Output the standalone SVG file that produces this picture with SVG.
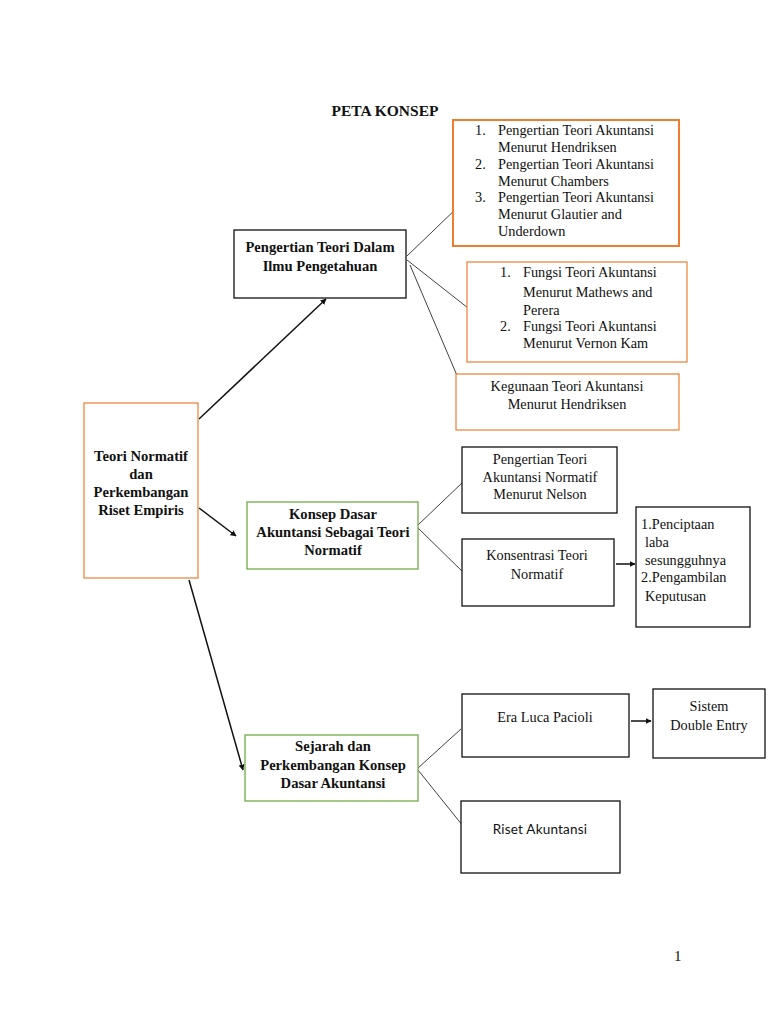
<svg xmlns="http://www.w3.org/2000/svg" width="768" height="1024" viewBox="0 0 768 1024">
<style>
text{font-family:"Liberation Serif","Times New Roman",serif;font-size:14.3px;fill:#111}
.b{font-weight:bold;font-size:14.6px}
.c{text-anchor:middle}
.blk{fill:#fff;stroke:#111;stroke-width:1.3}
.org{fill:#fff;stroke:#ED7D31;stroke-width:1.2}
.org2{fill:#fff;stroke:#ED7D31;stroke-width:2}
.grn{fill:#fff;stroke:#70AD47;stroke-width:1.3}
.ln{stroke:#111;stroke-width:0.8;fill:none}
.ar{stroke:#111;stroke-width:1.5;fill:none;marker-end:url(#ah)}
</style>
<defs>
<marker id="ah" viewBox="0 0 10 10" refX="9" refY="5" markerWidth="6" markerHeight="6" orient="auto" markerUnits="userSpaceOnUse">
<path d="M0,0 L10,5 L0,10 z" fill="#111"/>
</marker>
</defs>
<rect width="768" height="1024" fill="#fff"/>
<text class="b c" x="385" y="116" style="font-size:15.5px">PETA KONSEP</text>

<g id="connectors">
<line class="ar" x1="199" y1="419" x2="326" y2="299"/>
<line class="ar" x1="199" y1="508" x2="236" y2="536"/>
<line class="ar" x1="189" y1="580" x2="243" y2="770"/>
<line class="ln" x1="407" y1="256" x2="460" y2="205"/>
<line class="ln" x1="407" y1="260" x2="468" y2="308"/>
<line class="ln" x1="410" y1="265" x2="467" y2="399"/>
<line class="ln" x1="418" y1="525" x2="463" y2="482"/>
<line class="ln" x1="418" y1="528" x2="466" y2="575"/>
<line class="ar" x1="616" y1="564" x2="635" y2="564"/>
<line class="ln" x1="418" y1="768" x2="461" y2="729"/>
<line class="ln" x1="418" y1="770" x2="463" y2="826"/>
<line class="ar" x1="631" y1="721" x2="651" y2="721"/>
</g>

<g id="nodeA">
<rect class="blk" x="234" y="230" width="172" height="68"/>
<text class="b c" x="320" y="252">Pengertian Teori Dalam</text>
<text class="b c" x="320" y="271">Ilmu Pengetahuan</text>
</g>

<g id="nodeB">
<rect class="org2" x="453" y="120" width="226" height="126"/>
<text x="475" y="135">1.</text><text x="498" y="135">Pengertian Teori Akuntansi</text>
<text x="498" y="152">Menurut Hendriksen</text>
<text x="475" y="169">2.</text><text x="498" y="169">Pengertian Teori Akuntansi</text>
<text x="498" y="186">Menurut Chambers</text>
<text x="475" y="202">3.</text><text x="498" y="202">Pengertian Teori Akuntansi</text>
<text x="498" y="219">Menurut Glautier and</text>
<text x="498" y="236">Underdown</text>
</g>

<g id="nodeC">
<rect class="org" x="467" y="262" width="220" height="100"/>
<text x="500" y="277">1.</text><text x="523" y="277">Fungsi Teori Akuntansi</text>
<text x="523" y="297">Menurut Mathews and</text>
<text x="523" y="315">Perera</text>
<text x="500" y="331">2.</text><text x="523" y="331">Fungsi Teori Akuntansi</text>
<text x="523" y="348">Menurut Vernon Kam</text>
</g>

<g id="nodeD">
<rect class="org" x="456" y="374" width="223" height="56"/>
<text class="c" x="567" y="391">Kegunaan Teori Akuntansi</text>
<text class="c" x="567" y="409">Menurut Hendriksen</text>
</g>

<g id="nodeE">
<rect class="org" x="84" y="403" width="114" height="175"/>
<text class="b c" x="141" y="461">Teori Normatif</text>
<text class="b c" x="141" y="479">dan</text>
<text class="b c" x="141" y="497">Perkembangan</text>
<text class="b c" x="141" y="515">Riset Empiris</text>
</g>

<g id="nodeF">
<rect class="grn" x="247" y="502" width="171" height="67"/>
<text class="b c" x="333" y="519">Konsep Dasar</text>
<text class="b c" x="333" y="537">Akuntansi Sebagai Teori</text>
<text class="b c" x="333" y="555">Normatif</text>
</g>

<g id="nodeG">
<rect class="blk" x="462" y="447" width="155" height="66"/>
<text class="c" x="540" y="464">Pengertian Teori</text>
<text class="c" x="540" y="482">Akuntansi Normatif</text>
<text class="c" x="540" y="499">Menurut Nelson</text>
</g>

<g id="nodeH">
<rect class="blk" x="462" y="539" width="152" height="67"/>
<text class="c" x="537" y="560">Konsentrasi Teori</text>
<text class="c" x="537" y="579">Normatif</text>
</g>

<g id="nodeI">
<rect class="blk" x="636" y="507" width="114" height="120"/>
<text x="641" y="529">1.Penciptaan</text>
<text x="645" y="547">laba</text>
<text x="645" y="565">sesungguhnya</text>
<text x="641" y="582">2.Pengambilan</text>
<text x="645" y="601">Keputusan</text>
</g>

<g id="nodeJ">
<rect class="grn" x="245" y="735" width="173" height="66"/>
<text class="b c" x="333" y="751">Sejarah dan</text>
<text class="b c" x="333" y="770">Perkembangan Konsep</text>
<text class="b c" x="333" y="788">Dasar Akuntansi</text>
</g>

<g id="nodeK">
<rect class="blk" x="462" y="694" width="167" height="63"/>
<text class="c" x="545" y="722">Era Luca Pacioli</text>
</g>

<g id="nodeL">
<rect class="blk" x="653" y="689" width="112" height="69"/>
<text class="c" x="709" y="711">Sistem</text>
<text class="c" x="709" y="730">Double Entry</text>
</g>

<g id="nodeM">
<rect class="blk" x="461" y="801" width="159" height="72"/>
<text class="c" x="540" y="834" style="font-family:Lato,'Open Sans',sans-serif;font-size:13.5px;letter-spacing:0.2px">Riset Akuntansi</text>
</g>

<text x="674" y="961" style="font-size:15px">1</text>
</svg>
